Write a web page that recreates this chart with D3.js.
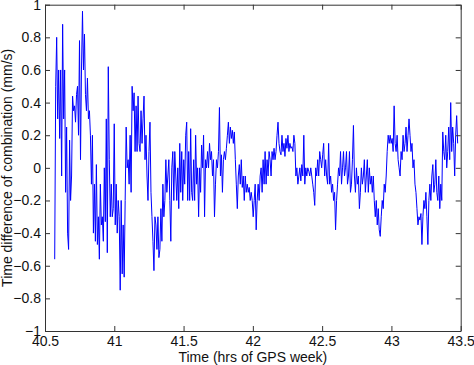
<!DOCTYPE html>
<html>
<head>
<meta charset="utf-8">
<script src="https://cdn.jsdelivr.net/npm/d3@7"></script>
<style>
  html, body { margin: 0; padding: 0; background: #fff; }
  svg { display: block; }
  text { font-family: Arial, "Liberation Sans", Helvetica, sans-serif; }
</style>
</head>
<body>
<svg id="chart" width="474" height="365"></svg>
<script>
// ---- data ----
const xTicks = [40.5, 41, 41.5, 42, 42.5, 43, 43.5];
const yTicks = [-1, -0.8, -0.6, -0.4, -0.2, 0, 0.2, 0.4, 0.6, 0.8, 1];
const xLabel = "Time (hrs of GPS week)";
const yLabel = "Time difference of combination (mm/s)";
const timeStart = 40.57;   // first sample (hrs)
const timeEnd = 43.478;    // last sample (hrs), samples evenly spaced
const values = [
  // 40.57 - 41.0
  -0.56,0.5,0.8,0.3,0.6,0.18,0.6,-0.05,0.88,0.3,0.6,-0.15,0.25,-0.4,-0.5,0.17,-0.2,-0.05,0.44,0.35,
  0.38,0.28,0.45,0.5,0.2,0.78,0.05,0.6,0.96,0.6,0.82,0.45,0.35,0.55,0.3,0.35,0.2,-0.1,0.2,-0.4,
  -0.1,-0.45,0.02,-0.47,-0.3,-0.56,-0.1,-0.35,-0.3,-0.45,0.0,-0.33,0.3,-0.52,0.62,0.05,-0.3,-0.1,-0.3,-0.25,0.27,
  // 41.0 - 41.6
  -0.35,-0.1,-0.4,-0.2,-0.3,-0.75,-0.2,-0.65,-0.35,-0.67,-0.2,0.25,0.0,0.05,-0.1,0.2,-0.15,0.5,0.35,0.46,
  0.1,0.38,0.1,0.44,0.15,0.1,0.35,0.15,0.3,0.44,0.05,0.2,-0.05,-0.2,0.1,0.28,-0.15,-0.3,-0.45,-0.63,
  -0.3,-0.35,-0.5,-0.3,-0.55,-0.5,-0.25,-0.45,-0.1,-0.3,-0.2,0.05,-0.15,-0.05,0.05,-0.2,-0.45,0.0,0.1,-0.2,
  0.1,-0.05,-0.2,0.0,-0.25,0.15,-0.15,0.1,-0.2,0.05,-0.1,0.2,0.28,-0.2,0.1,-0.2,0.24,-0.15,-0.2,0.05,
  -0.2,0.2,-0.1,0.0,-0.3,
  // 41.6 - 41.9
  0.0,-0.15,0.14,0.0,0.2,-0.3,0.05,0.0,0.1,0.0,0.15,0.05,0.1,-0.05,0.05,-0.3,-0.1,0.05,0.0,0.1,
  0.37,-0.05,0.08,-0.15,0.05,0.1,0.05,0.12,0.2,0.28,0.15,0.25,0.18,0.23,0.15,0.22,0.05,-0.1,-0.25,-0.05,
  0.02,-0.1,0.05,-0.12,
  // 41.9 - 43.48
  -0.05,-0.2,-0.05,-0.15,-0.1,-0.15,-0.12,-0.2,-0.15,-0.2,-0.3,-0.2,-0.1,-0.38,-0.2,-0.1,-0.2,-0.05,0.0,-0.15,
  0.05,-0.1,0.1,-0.1,0.05,-0.05,0.1,0.05,-0.05,0.1,0.05,0.12,0.05,0.1,0.2,0.28,0.15,0.1,0.08,0.2,
  0.1,0.15,0.07,0.18,0.12,0.2,0.1,0.15,0.12,0.13,0.1,0.2,0.15,-0.05,0.0,-0.1,-0.05,0.0,-0.08,0.02,
  -0.05,0.2,-0.1,0.0,-0.05,0.0,-0.02,-0.05,0.0,-0.05,-0.1,-0.15,-0.23,0.0,-0.05,0.05,-0.05,0.1,0.05,0.0,
  0.08,0.15,-0.05,0.05,-0.05,-0.1,0.15,-0.1,-0.05,-0.15,-0.1,-0.2,-0.15,-0.38,-0.2,-0.1,0.0,-0.05,0.1,-0.1,
  0.0,0.1,-0.05,0.0,0.1,-0.1,-0.05,0.1,-0.15,-0.1,0.05,0.26,-0.05,-0.15,0.0,-0.1,-0.05,-0.25,-0.15,0.0,
  -0.1,-0.05,0.05,-0.15,-0.05,0.05,-0.15,0.0,-0.1,-0.05,-0.15,-0.05,-0.2,-0.3,-0.2,-0.35,-0.25,-0.38,-0.42,-0.3,
  -0.2,-0.25,-0.1,-0.15,-0.05,0.1,0.2,0.15,0.2,0.15,0.18,0.1,0.38,0.15,0.1,0.2,0.05,0.0,-0.05,0.1,
  0.05,0.2,0.1,0.15,0.25,0.1,0.2,0.3,0.2,0.1,0.15,0.0,0.05,-0.1,-0.15,-0.25,-0.35,-0.3,-0.32,-0.28,
  -0.47,-0.3,-0.2,-0.25,-0.15,-0.3,-0.47,-0.2,-0.1,-0.2,-0.05,0.02,-0.15,-0.1,0.05,-0.15,-0.2,-0.05,-0.25,-0.1,
  -0.2,0.22,0.1,0.05,0.2,0.0,0.1,0.25,0.05,0.4,0.1,0.25,0.15,-0.05,0.2,0.32,0.15
];

// ---- layout ----
const plot = { left: 45, right: 460.7, top: 4.7, bottom: 331 };

const svg = d3.select("#chart");

const x = d3.scaleLinear().domain([40.5, 43.5]).range([plot.left, plot.right]);
const y = d3.scaleLinear().domain([-1, 1]).range([plot.bottom, plot.top]);
const tIndex = d3.scaleLinear().domain([0, values.length - 1]).range([timeStart, timeEnd]);

const fmt = d3.format("~g");
const tickLen = 5;

svg.append("clipPath").attr("id", "clip")
  .append("rect")
  .attr("x", plot.left).attr("y", plot.top)
  .attr("width", plot.right - plot.left).attr("height", plot.bottom - plot.top);

// data line
const line = d3.line()
  .x((d, i) => x(tIndex(i)))
  .y(d => y(d));

svg.append("path")
  .datum(values)
  .attr("clip-path", "url(#clip)")
  .attr("fill", "none")
  .attr("stroke", "#0000ff")
  .attr("stroke-width", 1)
  .attr("stroke-linejoin", "miter")
  .attr("d", line);

function styleAxis(g) {
  g.select(".domain").attr("stroke", "#333").attr("stroke-width", 1);
  g.selectAll(".tick line").attr("stroke", "#333");
  g.selectAll(".tick text").attr("fill", "#111").style("font-size", "14px")
    .style("font-family", "Arial, 'Liberation Sans', Helvetica, sans-serif");
}

// bottom axis
svg.append("g")
  .attr("transform", `translate(0,${plot.bottom})`)
  .call(d3.axisBottom(x).tickValues(xTicks).tickFormat(fmt).tickSizeInner(-tickLen).tickSizeOuter(0).tickPadding(5))
  .call(styleAxis);

// top axis (no labels)
svg.append("g")
  .attr("transform", `translate(0,${plot.top})`)
  .call(d3.axisTop(x).tickValues(xTicks).tickFormat("").tickSizeInner(-tickLen).tickSizeOuter(0))
  .call(styleAxis);

// left axis
svg.append("g")
  .attr("transform", `translate(${plot.left},0)`)
  .call(d3.axisLeft(y).tickValues(yTicks).tickFormat(fmt).tickSizeInner(-tickLen).tickSizeOuter(0).tickPadding(4))
  .call(styleAxis);

// right axis (no labels)
svg.append("g")
  .attr("transform", `translate(${plot.right},0)`)
  .call(d3.axisRight(y).tickValues(yTicks).tickFormat("").tickSizeInner(-tickLen).tickSizeOuter(0))
  .call(styleAxis);

// axis titles
svg.append("text")
  .attr("x", (plot.left + plot.right) / 2)
  .attr("y", 362)
  .attr("text-anchor", "middle")
  .attr("fill", "#111")
  .style("font-size", "14px")
  .text(xLabel);

svg.append("text")
  .attr("transform", `translate(12,${(plot.top + plot.bottom) / 2}) rotate(-90)`)
  .attr("text-anchor", "middle")
  .attr("fill", "#111")
  .style("font-size", "14px")
  .text(yLabel);
</script>
</body>
</html>
